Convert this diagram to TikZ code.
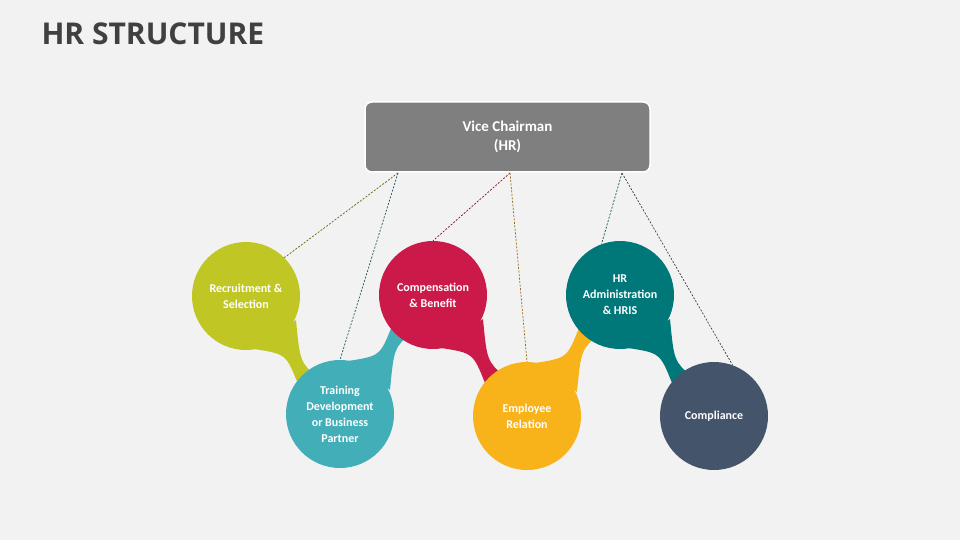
\documentclass[tikz,border=0pt]{standalone}
\usepackage{fontspec}
\setmainfont{Carlito}
\newfontfamily\titlefont{Open Sans}
\usetikzlibrary{calc,shadows}
\definecolor{bg}{HTML}{F2F2F2}
\definecolor{cgreen}{HTML}{C0C724}
\definecolor{cteal}{HTML}{42AEB8}
\definecolor{cred}{HTML}{CB1A4A}
\definecolor{cyel}{HTML}{F8B21A}
\definecolor{cdteal}{HTML}{00787A}
\definecolor{cslate}{HTML}{44546A}
\definecolor{cbox}{HTML}{7F7F7F}
\tikzset{
  circ/.style={circle,minimum size=108pt,inner sep=0pt,align=center,text=white,font=\fontsize{12}{16}\selectfont\bfseries},
  dline/.style={dashed,line width=0.7pt,dash pattern=on 2pt off 1.5pt},
}
\begin{document}
\begin{tikzpicture}[x=1pt,y=-1pt]
\fill[bg] (0,0) rectangle (960,540);
\useasboundingbox (0,0) rectangle (960,540);
\node[anchor=west,text=black!75,font=\titlefont\fontsize{30}{34}\selectfont\bfseries] (title) at (38,34) {HR STRUCTURE};
% necks: down (top-left to bottom-right) and up
\newcommand{\neckdown}[3]{% top center, color
  \fill[#3] ($(#1,#2)+(8,53)$) .. controls ($(#1,#2)+(40,58)$) .. ($(#1,#2)+(52,88)$)
     -- ($(#1,#2)+(72,82)$) .. controls ($(#1,#2)+(54,66)$) .. ($(#1,#2)+(50,24)$) -- cycle;}
\newcommand{\neckup}[3]{% bottom center, color
  \fill[#3] ($(#1,#2)+(8,-53)$) .. controls ($(#1,#2)+(40,-58)$) .. ($(#1,#2)+(52,-88)$)
     -- ($(#1,#2)+(72,-82)$) .. controls ($(#1,#2)+(54,-66)$) .. ($(#1,#2)+(50,-24)$) -- cycle;}
\neckdown{246}{296}{cgreen}
\neckup{340}{414}{cteal}
\neckdown{433}{295}{cred}
\neckup{527}{416}{cyel}
\neckdown{620}{295}{cdteal}
\node[circ,fill=cgreen] (rec) at (246,296) {Recruitment \&\\Selection};
\node[circ,fill=cred] (comp) at (433,295) {Compensation\\\& Benefit};
\node[circ,fill=cdteal] (hra) at (620,295) {HR\\Administration\\\& HRIS};
\node[circ,fill=cteal] (trn) at (340,414) {Training\\Development\\or Business\\Partner};
\node[circ,fill=cyel] (emp) at (527,416) {Employee\\Relation};
\node[circ,fill=cslate] (cmp) at (714,416) {Compliance};
\node[draw=white,line width=1.5pt,rounded corners=7pt,fill=cbox,minimum width=285pt,minimum height=70pt,
  align=center,text=white,font=\fontsize{15}{19}\selectfont\bfseries,
  drop shadow={shadow xshift=0pt,shadow yshift=0pt,opacity=0.25}] (vc) at (507.5,137) {Vice Chairman\\(HR)};
\coordinate (a1) at (398,173);
\coordinate (a2) at (510,173);
\coordinate (a3) at (622,173);
\draw[dline,color=cgreen!50!black] (a1) -- (rec.45);
\draw[dline,color=cteal!50!black] (a1) -- (trn.north);
\draw[dline,color=cred!60!black] (a2) -- (comp.north);
\draw[dline,color=cyel!60!black] (a2) -- (emp.north);
\draw[dline,color=cdteal!70!black] (a3) -- (hra.110);
\draw[dline,color=cslate!80!black] (a3) -- (cmp.70);
\end{tikzpicture}
\end{document}
